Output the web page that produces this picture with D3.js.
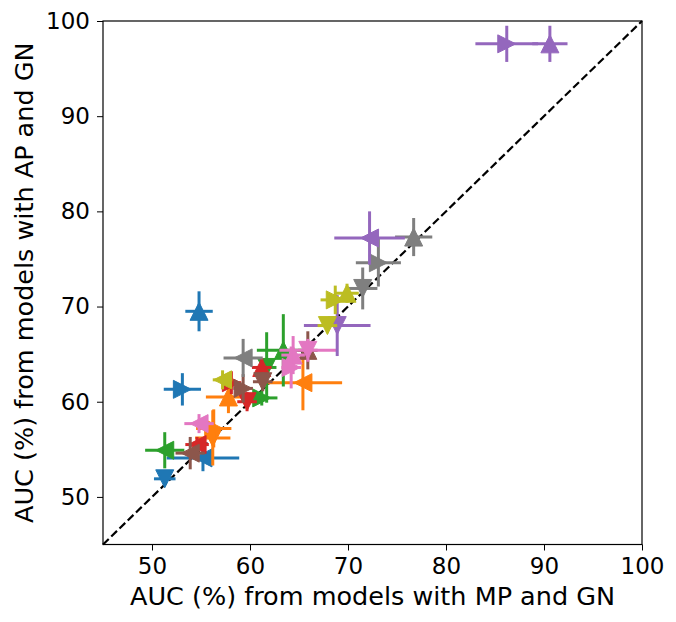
<!DOCTYPE html>
<html>
<head>
<meta charset="utf-8">
<script src="https://cdn.jsdelivr.net/npm/d3@7"></script>
<style>
  body { margin: 0; background: #fff; }
  text { font-family: "DejaVu Sans", sans-serif; fill: #000; }
</style>
</head>
<body>
<svg id="chart"></svg>
<script>
// tab10 colours, one per model group (4 points each)
var groupColors = ["#1f77b4", "#ff7f0e", "#2ca02c", "#d62728", "#8c564b",
                   "#e377c2", "#7f7f7f", "#9467bd", "#bcbd22"];

// marker shape per point inside each group
var shapes = ["up", "down", "left", "right"];

// AUC (%) with MP and GN (x) and with AP and GN (y), plus their spreads
var aucMP = [54.8, 51.3, 55.2, 53.1,
             57.8, 56.2, 65.4, 56.3,
             63.4, 61.7, 51.3, 61.2,
             61.2, 59.7, 54.6, 58.1,
             65.9, 61.3, 53.9, 59.3,
             64.4, 65.9, 54.8, 64.2,
             76.7, 71.5, 59.3, 73.1,
             90.6, 68.9, 72.2, 86.2,
             69.9, 67.9, 57.2, 68.7];
var aucAP = [69.5, 51.9, 54.1, 61.3,
             60.5, 56.2, 62.0, 57.2,
             65.4, 63.6, 54.9, 60.4,
             63.6, 60.0, 55.5, 62.0,
             65.4, 62.1, 54.6, 61.4,
             64.9, 65.4, 57.7, 63.6,
             77.3, 71.9, 64.6, 74.6,
             97.6, 68.0, 77.2, 97.6,
             71.4, 68.0, 62.3, 70.7];
var errMP = [1.4, 1.1, 3.7, 1.9,
             2.3, 1.8, 4.0, 1.8,
             2.7, 1.0, 2.0, 1.6,
             1.0, 1.0, 1.2, 1.0,
             1.0, 1.0, 1.5, 1.0,
             1.2, 2.9, 1.5, 1.0,
             1.9, 1.5, 2.0, 2.3,
             1.8, 3.4, 3.6, 3.2,
             1.2, 1.0, 1.0, 1.5];
var errAP = [2.1, 0.5, 1.4, 1.7,
             1.7, 2.9, 2.9, 2.0,
             3.8, 3.7, 1.9, 0.8,
             1.0, 1.0, 0.8, 1.2,
             2.0, 1.0, 1.7, 1.5,
             2.0, 1.2, 1.0, 2.2,
             2.0, 2.2, 2.0, 2.5,
             1.9, 3.2, 2.8, 1.9,
             1.0, 0.8, 1.0, 1.5];

var xTicks = [50, 60, 70, 80, 90, 100];
var yTicks = [50, 60, 70, 80, 90, 100];

var width = 676,
    height = 622,
    margin = {left: 103, right: 34, top: 21, bottom: 77.5};

var svg = d3.select("#chart")
    .attr("width", width)
    .attr("height", height);

var x = d3.scaleLinear().domain([45, 100]).range([margin.left, width - margin.right]);
var y = d3.scaleLinear().domain([45, 100]).range([height - margin.bottom, margin.top]);

var points = aucMP.map(function(d, i) {
    return {
        x: d, y: aucAP[i], ex: errMP[i], ey: errAP[i],
        color: groupColors[Math.floor(i / 4)],
        shape: shapes[i % 4]
    };
});

// diagonal reference line
svg.append("line")
    .attr("x1", x(45)).attr("y1", y(45))
    .attr("x2", x(100)).attr("y2", y(100))
    .style("stroke", "#000")
    .style("stroke-width", 2.2)
    .style("stroke-dasharray", "8,3.5");

var h = 9;
function triangle(d) {
    var cx = x(d.x), cy = y(d.y);
    if (d.shape == "up")
        return "M" + cx + "," + (cy - h) + "L" + (cx - h) + "," + (cy + h) + "L" + (cx + h) + "," + (cy + h) + "Z";
    if (d.shape == "down")
        return "M" + cx + "," + (cy + h) + "L" + (cx - h) + "," + (cy - h) + "L" + (cx + h) + "," + (cy - h) + "Z";
    if (d.shape == "left")
        return "M" + (cx - h) + "," + cy + "L" + (cx + h) + "," + (cy - h) + "L" + (cx + h) + "," + (cy + h) + "Z";
    return "M" + (cx + h) + "," + cy + "L" + (cx - h) + "," + (cy - h) + "L" + (cx - h) + "," + (cy + h) + "Z";
}

var g = svg.append("g").selectAll(".pt")
    .data(points)
  .enter().append("g")
    .attr("class", "pt");

g.append("line")
    .attr("x1", function(d) { return x(d.x - d.ex); })
    .attr("x2", function(d) { return x(d.x + d.ex); })
    .attr("y1", function(d) { return y(d.y); })
    .attr("y2", function(d) { return y(d.y); })
    .style("stroke", function(d) { return d.color; })
    .style("stroke-width", 3);

g.append("line")
    .attr("x1", function(d) { return x(d.x); })
    .attr("x2", function(d) { return x(d.x); })
    .attr("y1", function(d) { return y(d.y - d.ey); })
    .attr("y2", function(d) { return y(d.y + d.ey); })
    .style("stroke", function(d) { return d.color; })
    .style("stroke-width", 3);

g.append("path")
    .attr("d", triangle)
    .style("fill", function(d) { return d.color; })
    .style("stroke", function(d) { return d.color; })
    .style("stroke-width", 1);

// axes
var xAxis = svg.append("g")
    .attr("transform", "translate(0," + (height - margin.bottom) + ")")
    .call(d3.axisBottom(x).tickValues(xTicks).tickSizeOuter(0).tickSize(6).tickPadding(7));
var yAxis = svg.append("g")
    .attr("transform", "translate(" + margin.left + ",0)")
    .call(d3.axisLeft(y).tickValues(yTicks).tickSizeOuter(0).tickSize(6).tickPadding(7));

[xAxis, yAxis].forEach(function(a) {
    a.select(".domain").remove();
    a.selectAll("line").style("stroke", "#000").style("stroke-width", 1);
    a.selectAll("text").style("font-size", "23px").style("font-family", "DejaVu Sans");
});

// frame
svg.append("rect")
    .attr("x", x(45)).attr("y", y(100))
    .attr("width", x(100) - x(45))
    .attr("height", y(45) - y(100))
    .style("fill", "none")
    .style("stroke", "#000")
    .style("stroke-width", 1.2);

svg.append("text")
    .attr("x", (x(45) + x(100)) / 2)
    .attr("y", 605)
    .attr("text-anchor", "middle")
    .style("font-size", "25.5px")
    .text("AUC (%) from models with MP and GN");

svg.append("text")
    .attr("transform", "translate(33," + (y(45) + y(100)) / 2 + ") rotate(-90)")
    .attr("text-anchor", "middle")
    .style("font-size", "25.5px")
    .text("AUC (%) from models with AP and GN");
</script>
</body>
</html>
